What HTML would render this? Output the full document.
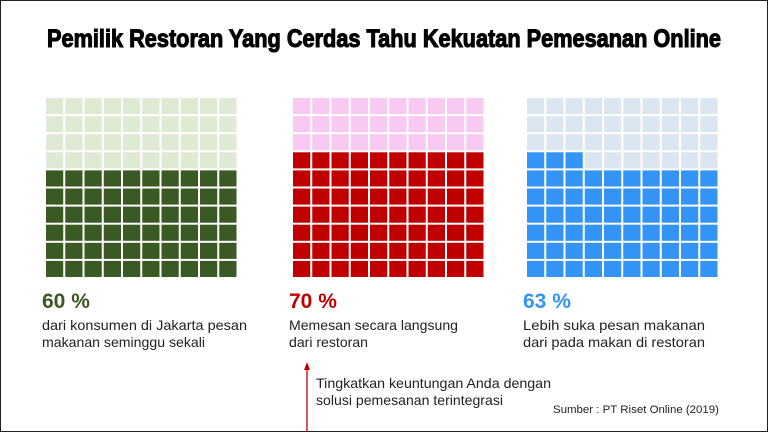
<!DOCTYPE html>
<html><head><meta charset="utf-8"><style>
body{margin:0;background:#fff}
svg{display:block}
text{font-family:"Liberation Sans",sans-serif}
</style></head><body>
<svg id="c" width="768" height="432" viewBox="0 0 768 432">
<rect x="0.5" y="0.5" width="767" height="431" fill="#fff" stroke="#222"/>
<text x="384" y="47" text-anchor="middle" font-family="'Liberation Sans Narrow','Liberation Sans',sans-serif" font-weight="bold" font-size="25" textLength="674" lengthAdjust="spacingAndGlyphs" fill="#000" stroke="#000" stroke-width="1.1">Pemilik Restoran Yang Cerdas Tahu Kekuatan Pemesanan Online</text>
<g id="grids"></g>
<line x1="307" y1="432" x2="307" y2="368" stroke="#c00000" stroke-width="1.3"/>
<polygon points="304,370 310,370 307,362" fill="#c00000"/>
<text x="316" y="388" font-size="14" fill="#222" textLength="235" lengthAdjust="spacingAndGlyphs">Tingkatkan  keuntungan Anda dengan</text>
<text x="316" y="405" font-size="14" fill="#222" textLength="187" lengthAdjust="spacingAndGlyphs">solusi pemesanan  terintegrasi</text>
<text x="553" y="413" font-size="11" fill="#222" textLength="166" lengthAdjust="spacingAndGlyphs">Sumber : PT Riset Online (2019)</text>
</svg>
<script>
const categories = ["konsumen-jakarta","pesan-langsung","pesan-makanan"];
const percents = [60, 70, 63];
const percentLabels = ["60 %", "70 %", "63 %"];
const descLine1 = ["dari konsumen di Jakarta pesan","Memesan secara langsung","Lebih suka pesan makanan"];
const descLine2 = ["makanan seminggu sekali","dari restoran","dari pada makan di restoran"];
const ns="http://www.w3.org/2000/svg";
const len1=[205,169,182], len2=[163,79,182];
const darkC=["#3b5a23","#c00000","#3394f5"], lightC=["#dfead4","#f8c9f1","#dce6f1"], txtC=["#3b5a23","#c00000","#3394f5"];
const gx=[46,293,527], gy=98, cw=19.25, ch=18.1, gap=2;
const g=document.getElementById('grids');
function mk(t,a){const e=document.createElementNS(ns,t);for(const k in a)e.setAttribute(k,a[k]);return e;}
percents.forEach((p,i)=>{
  const grp=mk('g',{});
  
  
  for(let r=0;r<10;r++)for(let c=0;c<10;c++){
    const idx=(9-r)*10+c;
    const filled=idx<p;
    const el=mk('rect',{x:gx[i]+c*cw,y:gy+r*ch,width:cw-gap,height:ch-gap,fill:filled?darkC[i]:lightC[i]});
    
    
    grp.appendChild(el);
  }
  g.appendChild(grp);
  const x=gx[i]-4;
  const t1=mk('text',{x:x,y:308,'font-size':21,'font-weight':'bold',fill:txtC[i]});
  t1.textContent=percentLabels[i];
  
  
  g.appendChild(t1);
  const t2=mk('text',{x:x,y:330,'font-size':14,fill:'#222',textLength:len1[i],lengthAdjust:'spacingAndGlyphs'});
  t2.textContent=descLine1[i];
  
  
  g.appendChild(t2);
  const t3=mk('text',{x:x,y:347,'font-size':14,fill:'#222',textLength:len2[i],lengthAdjust:'spacingAndGlyphs'});
  t3.textContent=descLine2[i];
  
  
  g.appendChild(t3);
});
</script>
</body></html>
